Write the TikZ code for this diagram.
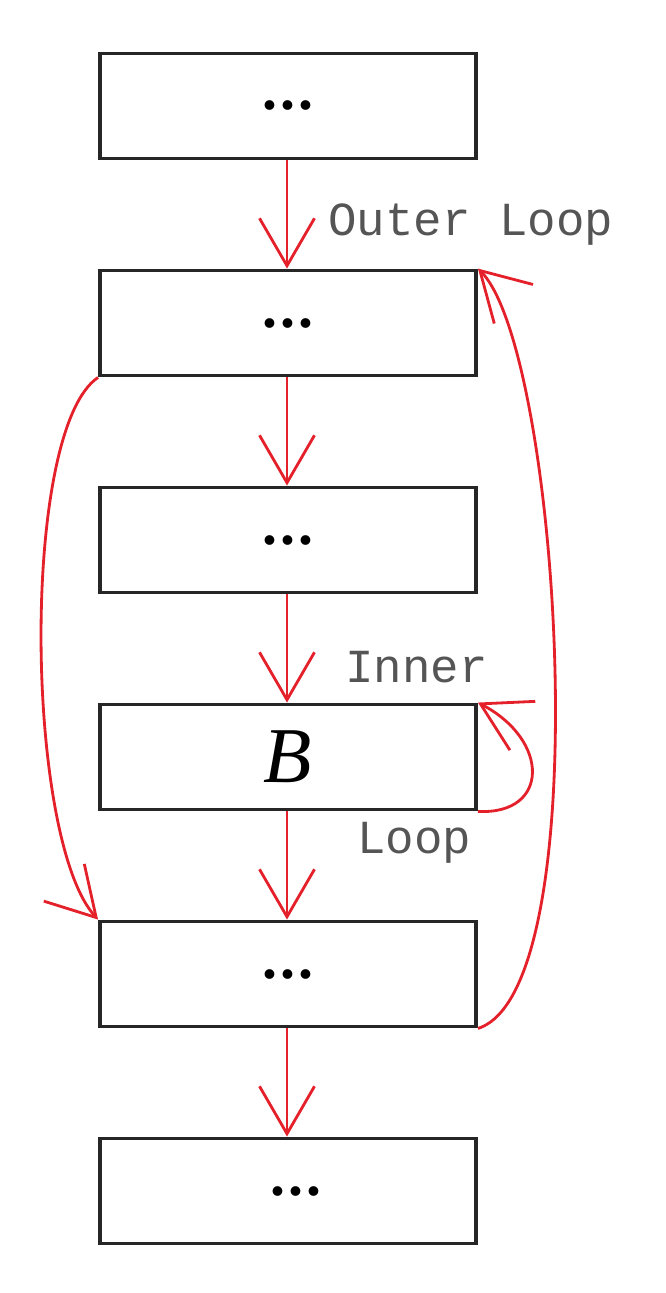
\documentclass[tikz,border=0pt]{standalone}
\usepackage{fontspec}
\newfontfamily\labelfont{Liberation Mono}
\newfontfamily\letterfont{Liberation Serif}
\usetikzlibrary{arrows.meta}

\definecolor{penred}{RGB}{228,32,42}
\definecolor{labelgray}{RGB}{85,85,85}

\newcommand{\gapdots}{.\kern1.7pt.\kern1.7pt.}

\tikzset{
    blk/.style={draw, black!85, line width=2.2pt, minimum width=7.52cm, minimum height=2.1cm,
        inner sep=0pt, text=black, font=\letterfont\bfseries\fontsize{34}{38}\selectfont},
    flow/.style={penred, line width=1.6pt, -{Straight Barb[length=0.95cm, width=1.1cm, line width=1.6pt]}},
    looplabel/.style={anchor=west, inner sep=0pt, text=labelgray, font=\labelfont\fontsize{27}{30}\selectfont}
}

\begin{document}
\begin{tikzpicture}

    \useasboundingbox (0,0) rectangle (13.32,-25.86);

    % Blocks
    \node[blk] (b1) at (5.76,-2.12) {\gapdots};
    \node[blk] (b2) at (5.76,-6.46) {\gapdots};
    \node[blk] (b3) at (5.76,-10.80) {\gapdots};
    \node[blk] (b4) at (5.76,-15.14) {\mdseries\itshape\fontsize{45}{48}\selectfont B};
    \node[blk] (b5) at (5.76,-19.48) {\gapdots};
    \node[blk] (b6) at (5.76,-23.82) {\hspace*{0.32cm}\gapdots};

    % Straight arrows
    \draw[flow] ([xshift=-0.02cm]b1.south) -- ([xshift=-0.02cm]b2.north);
    \draw[flow] ([xshift=-0.02cm]b2.south) -- ([xshift=-0.02cm]b3.north);
    \draw[flow] ([xshift=-0.02cm]b3.south) -- ([xshift=-0.02cm]b4.north);
    \draw[flow] ([xshift=-0.02cm]b4.south) -- ([xshift=-0.02cm]b5.north);
    \draw[flow] ([xshift=-0.02cm]b5.south) -- ([xshift=-0.02cm]b6.north);

    % Outer loop
    \draw[flow] (b5.south east) .. controls (12.0,-19.8) and (11.2,-7.0) .. (b2.north east);
    \draw[flow] (b2.south west) .. controls (0.4,-8.6) and (0.5,-16.8) .. (b5.north west);

    % Inner loop
    \draw[flow] (b4.south east) .. controls (11.0,-16.3) and (11.0,-14.8) .. (b4.north east);

    % Labels
    \node[looplabel] (outer) at (6.56,-4.50) {Outer Loop};
    \node[looplabel] (inner) at (6.90,-13.34) {Inner};
    \node[looplabel] (loop) at (7.14,-16.86) {Loop};

\end{tikzpicture}
\end{document}
